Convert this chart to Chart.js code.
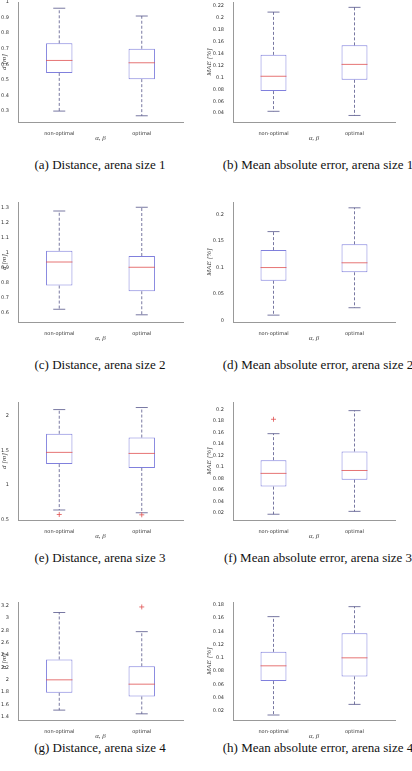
<!DOCTYPE html>
<html>
<head>
<meta charset="utf-8">
<script src="https://cdn.jsdelivr.net/npm/chart.js@4"></script>
<style>
  body { margin: 0; background: #fff; width: 412px; height: 771px; overflow: hidden; position: relative; }
  .panel { position: absolute; }
  .cap { position: absolute; font-family: "Liberation Serif", serif; font-size: 13px; color: #111; white-space: nowrap; transform: translateX(-50%); }
</style>
</head>
<body>
<script>
// categories
const categories = ['non-optimal', 'optimal'];

// five-number summaries [low whisker, q1, median, q3, high whisker]
const distNon1 = [0.30, 0.545, 0.625, 0.735, 0.96];
const distOpt1 = [0.27, 0.505, 0.61, 0.70, 0.91];
const maeNon1 = [0.043, 0.077, 0.102, 0.138, 0.21];
const maeOpt1 = [0.036, 0.096, 0.122, 0.154, 0.218];
const distNon2 = [0.625, 0.783, 0.94, 1.015, 1.28];
const distOpt2 = [0.588, 0.745, 0.905, 0.98, 1.305];
const maeNon2 = [0.01, 0.075, 0.1, 0.133, 0.168];
const maeOpt2 = [0.024, 0.091, 0.109, 0.144, 0.213];
const distNon3 = [0.635, 1.3, 1.47, 1.74, 2.09];
const distOpt3 = [0.595, 1.245, 1.455, 1.685, 2.12];
const maeNon3 = [0.018, 0.066, 0.089, 0.112, 0.158];
const maeOpt3 = [0.023, 0.078, 0.094, 0.127, 0.198];
const distNon4 = [1.51, 1.79, 2.0, 2.33, 3.09];
const distOpt4 = [1.45, 1.73, 1.93, 2.22, 2.78];
const maeNon4 = [0.014, 0.065, 0.088, 0.109, 0.162];
const maeOpt4 = [0.03, 0.072, 0.1, 0.137, 0.177];

// outliers per category
const outDist3 = [[0.57], [0.565]];
const outMae3 = [[0.183], []];
const outDist4 = [[], [3.18]];

// axis ranges and tick steps
const yRanges = [
  [0.23, 1.0, 0.1], [0.025, 0.227, 0.02],
  [0.54, 1.34, 0.1], [-0.003, 0.224, 0.05],
  [0.49, 2.2, 0.5], [0.008, 0.213, 0.02],
  [1.35, 3.26, 0.2], [0.0065, 0.184, 0.02]
];

const captions = [
  '(a)  Distance, arena size 1', '(b)  Mean absolute error, arena size 1',
  '(c)  Distance, arena size 2', '(d)  Mean absolute error, arena size 2',
  '(e)  Distance, arena size 3', '(f)  Mean absolute error, arena size 3',
  '(g)  Distance, arena size 4', '(h)  Mean absolute error, arena size 4'
];

const panels = [
  [distNon1, distOpt1, [[], []]], [maeNon1, maeOpt1, [[], []]],
  [distNon2, distOpt2, [[], []]], [maeNon2, maeOpt2, [[], []]],
  [distNon3, distOpt3, outDist3], [maeNon3, maeOpt3, outMae3],
  [distNon4, distOpt4, outDist4], [maeNon4, maeOpt4, [[], []]]
];

const rowTops = [-2, 198, 398, 598];
const rowBottoms = [122, 322, 520, 720];
const captionY = [165, 365, 558, 748];

const boxPlugin = {
  id: 'boxWhiskers',
  afterDatasetsDraw(chart) {
    const { ctx, scales: { x, y } } = chart;
    const stats = chart.options.plugins.boxWhiskers.stats;
    const outs = chart.options.plugins.boxWhiskers.outliers;
    ctx.save();
    stats.forEach((s, i) => {
      const cx = x.getPixelForValue(i);
      ctx.strokeStyle = '#55558a';
      ctx.lineWidth = 0.8;
      ctx.setLineDash([3, 2]);
      ctx.beginPath();
      ctx.moveTo(cx, y.getPixelForValue(s[3]));
      ctx.lineTo(cx, y.getPixelForValue(s[4]));
      ctx.moveTo(cx, y.getPixelForValue(s[1]));
      ctx.lineTo(cx, y.getPixelForValue(s[0]));
      ctx.stroke();
      ctx.setLineDash([]);
      ctx.beginPath();
      [s[0], s[4]].forEach(v => {
        const py = y.getPixelForValue(v);
        ctx.moveTo(cx - 6, py);
        ctx.lineTo(cx + 6, py);
      });
      ctx.stroke();
      const bar = chart.getDatasetMeta(0).data[i];
      ctx.strokeStyle = '#e05050';
      ctx.beginPath();
      const my = y.getPixelForValue(s[2]);
      ctx.moveTo(bar.x - bar.width / 2, my);
      ctx.lineTo(bar.x + bar.width / 2, my);
      ctx.stroke();
      outs[i].forEach(v => {
        const py = y.getPixelForValue(v);
        ctx.beginPath();
        ctx.moveTo(cx - 2.5, py); ctx.lineTo(cx + 2.5, py);
        ctx.moveTo(cx, py - 2.5); ctx.lineTo(cx, py + 2.5);
        ctx.stroke();
      });
    });
    ctx.restore();
  }
};

panels.forEach((p, k) => {
  const row = Math.floor(k / 2);
  const right = k % 2 === 1;
  const yw = right ? 28 : 18;
  const left = right ? 205 : 0;
  const width = right ? 191 : 184;
  const top = rowTops[row];
  const height = rowBottoms[row] - top + 20;
  const [ymin, ymax, step] = yRanges[k];

  const div = document.createElement('div');
  div.className = 'panel';
  div.style.left = left + 'px';
  div.style.top = top + 'px';
  div.style.width = width + 'px';
  div.style.height = height + 'px';
  const canvas = document.createElement('canvas');
  div.appendChild(canvas);
  document.body.appendChild(div);

  const cap = document.createElement('div');
  cap.className = 'cap';
  cap.textContent = captions[k];
  cap.style.left = (right ? 318 : 100) + 'px';
  cap.style.top = (captionY[row] - 8) + 'px';
  document.body.appendChild(cap);

  new Chart(canvas, {
    type: 'bar',
    data: {
      labels: categories,
      datasets: [{
        data: [[p[0][1], p[0][3]], [p[1][1], p[1][3]]],
        backgroundColor: '#ffffff',
        borderColor: '#8080dd',
        borderWidth: 1,
        borderSkipped: false,
        barPercentage: 0.32,
        categoryPercentage: 1
      }]
    },
    plugins: [boxPlugin],
    options: {
      responsive: true,
      maintainAspectRatio: false,
      animation: false,
      layout: { padding: { top: 0, right: 1, left: 0, bottom: 0 } },
      plugins: {
        legend: { display: false },
        tooltip: { enabled: false },
        boxWhiskers: { stats: [p[0], p[1]], outliers: p[2] }
      },
      scales: {
        x: {
          grid: { display: false },
          border: { color: '#999' },
          ticks: { font: { size: 5, family: 'DejaVu Sans' }, color: '#333', padding: 1, maxRotation: 0 },
          title: { display: true, text: 'α, β', font: { size: 7, family: 'Liberation Serif', style: 'italic' }, color: '#444', padding: 0 },
          afterFit(a) { a.height = 20; }
        },
        y: {
          min: ymin,
          max: ymax,
          grid: { display: false },
          border: { color: '#999' },
          afterBuildTicks(a) {
            const t = [];
            for (let n = Math.ceil(ymin / step - 1e-9); n * step <= ymax + 1e-9; n++) {
              t.push({ value: +(n * step).toFixed(4) });
            }
            a.ticks = t;
          },
          ticks: {
            font: { size: 5, family: 'DejaVu Sans' }, color: '#333', padding: 1,
            callback: v => String(+(+v).toFixed(3))
          },
          title: {
            display: true,
            text: right ? 'MAE [%]' : 'd [m]',
            font: { size: 7, family: 'Liberation Serif', style: 'italic' },
            color: '#444', padding: 0
          },
          afterFit(a) { a.width = yw; }
        }
      }
    }
  });
});
</script>
</body>
</html>
